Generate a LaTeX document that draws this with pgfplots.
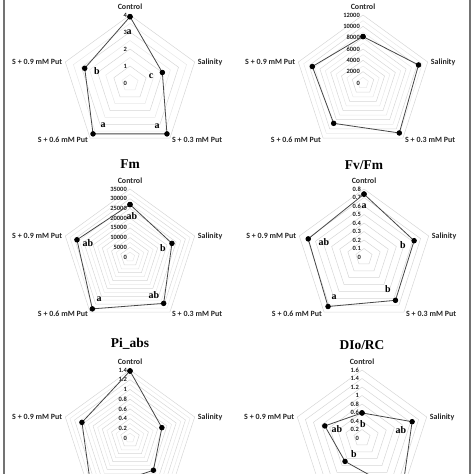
\documentclass[border=0pt]{standalone}
\usepackage{fontspec}
\setmainfont{Liberation Serif}
\newfontfamily\calfont{Carlito}
\usepackage{pgfplots}
\pgfplotsset{compat=1.18}
\usepgfplotslibrary{polar}

\pgfplotsset{
  radar/.style={anchor=center, width=136bp, height=136bp, scale only axis, hide axis, ymin=0, clip=false},
  ring/.style={black!16, line width=0.5bp, no marks},
  minring/.style={black!9, line width=0.5bp, no marks},
  series/.style={black!72, line width=0.8bp, mark=*, mark size=2.3bp, mark options={fill=black, draw=black}},
}
\tikzset{
  cat/.style={font=\calfont\bfseries\fontsize{8}{9}\selectfont, text=black!85, inner sep=0pt},
  tck/.style={font=\calfont\bfseries\fontsize{6.5}{7}\selectfont, text=black!88, anchor=east, inner sep=0pt, xshift=-3bp},
  let/.style={font=\bfseries\fontsize{10}{11}\selectfont, inner sep=0pt},
  ttl/.style={font=\bfseries\fontsize{13.5}{15}\selectfont, inner sep=0pt},
}
\newcommand{\cats}[1]{%
  \node[cat, anchor=south, yshift=5bp] at (axis cs:90,#1) {Control};
  \node[cat, anchor=west, xshift=3bp] at (axis cs:18,#1) {Salinity};
  \node[cat, anchor=west, xshift=2bp, yshift=-2bp] at (axis cs:306,#1) {S + 0.3 mM Put};
  \node[cat, anchor=east, xshift=-2bp, yshift=-2bp] at (axis cs:234,#1) {S + 0.6 mM Put};
  \node[cat, anchor=east, xshift=-3bp] at (axis cs:162,#1) {S + 0.9 mM Put};
}

\begin{document}
\begin{tikzpicture}
\useasboundingbox (0,0) rectangle (474bp,-474bp);
\draw[black!55, line width=1.5bp] (4bp,0) -- (4bp,-474bp);
\draw[black!55, line width=1.5bp] (470bp,0) -- (470bp,-474bp);

% ---------- top left ----------
\begin{polaraxis}[radar, at={(130bp,-83bp)}, ymax=4]
\pgfplotsinvokeforeach{0.5,1.5,2.5,3.5}{\addplot[minring] coordinates {(90,#1)(18,#1)(306,#1)(234,#1)(162,#1)(90,#1)};}
\pgfplotsinvokeforeach{1,2,3,4}{\addplot[ring] coordinates {(90,#1)(18,#1)(306,#1)(234,#1)(162,#1)(90,#1)};}
\pgfplotsinvokeforeach{0,1,2,3,4}{\node[tck] at (axis cs:90,#1) {#1};}
\addplot[series] coordinates {(90,3.9)(18,2.0)(306,3.7)(234,3.7)(162,2.8)(90,3.9)};
\cats{4}
\end{polaraxis}

% ---------- top right ----------
\begin{polaraxis}[radar, at={(363bp,-83bp)}, ymax=12000]
\pgfplotsinvokeforeach{1000,3000,5000,7000,9000,11000}{\addplot[minring] coordinates {(90,#1)(18,#1)(306,#1)(234,#1)(162,#1)(90,#1)};}
\pgfplotsinvokeforeach{2000,4000,6000,8000,10000,12000}{\addplot[ring] coordinates {(90,#1)(18,#1)(306,#1)(234,#1)(162,#1)(90,#1)};}
\pgfplotsinvokeforeach{0,2000,4000,6000,8000,10000,12000}{\node[tck] at (axis cs:90,#1) {#1};}
\addplot[series] coordinates {(90,8200)(18,10300)(306,10900)(234,8800)(162,9400)(90,8200)};
\cats{12000}
\end{polaraxis}

% ---------- Fm ----------
\begin{polaraxis}[radar, at={(130bp,-257bp)}, ymax=35000]
\pgfplotsinvokeforeach{2500,7500,12500,17500,22500,27500,32500}{\addplot[minring] coordinates {(90,#1)(18,#1)(306,#1)(234,#1)(162,#1)(90,#1)};}
\pgfplotsinvokeforeach{5000,10000,15000,20000,25000,30000,35000}{\addplot[ring] coordinates {(90,#1)(18,#1)(306,#1)(234,#1)(162,#1)(90,#1)};}
\pgfplotsinvokeforeach{0,5000,10000,15000,20000,25000,30000,35000}{\node[tck] at (axis cs:90,#1) {#1};}
\addplot[series] coordinates {(90,27000)(18,22700)(306,29500)(234,33000)(162,28700)(90,27000)};
\cats{35000}
\end{polaraxis}

% ---------- Fv/Fm ----------
\begin{polaraxis}[radar, at={(364bp,-257bp)}, ymax=0.8]
\pgfplotsinvokeforeach{0.1,0.2,0.3,0.4,0.5,0.6,0.7,0.8}{\addplot[ring] coordinates {(90,#1)(18,#1)(306,#1)(234,#1)(162,#1)(90,#1)};}
\pgfplotsinvokeforeach{0,0.1,0.2,0.3,0.4,0.5,0.6,0.7,0.8}{\node[tck] at (axis cs:90,#1) {#1};}
\addplot[series] coordinates {(90,0.74)(18,0.62)(306,0.63)(234,0.72)(162,0.69)(90,0.74)};
\cats{0.8}
\end{polaraxis}

% ---------- Pi_abs ----------
\begin{polaraxis}[radar, at={(130bp,-438bp)}, ymax=1.4]
\pgfplotsinvokeforeach{0.1,0.3,0.5,0.7,0.9,1.1,1.3}{\addplot[minring] coordinates {(90,#1)(18,#1)(306,#1)(234,#1)(162,#1)(90,#1)};}
\pgfplotsinvokeforeach{0.2,0.4,0.6,0.8,1,1.2,1.4}{\addplot[ring] coordinates {(90,#1)(18,#1)(306,#1)(234,#1)(162,#1)(90,#1)};}
\pgfplotsinvokeforeach{0,0.2,0.4,0.6,0.8,1,1.2,1.4}{\node[tck] at (axis cs:90,#1) {#1};}
\addplot[series] coordinates {(90,1.38)(18,0.69)(306,0.82)(234,1.35)(162,1.04)(90,1.38)};
\cats{1.4}
\end{polaraxis}

% ---------- DIo/RC ----------
\begin{polaraxis}[radar, at={(362bp,-438bp)}, ymax=1.6]
\pgfplotsinvokeforeach{0.2,0.4,0.6,0.8,1,1.2,1.4,1.6}{\addplot[ring] coordinates {(90,#1)(18,#1)(306,#1)(234,#1)(162,#1)(90,#1)};}
\pgfplotsinvokeforeach{0,0.2,0.4,0.6,0.8,1,1.2,1.4,1.6}{\node[tck] at (axis cs:90,#1) {#1};}
\addplot[series] coordinates {(90,0.59)(18,1.24)(306,1.6)(234,0.68)(162,0.92)(90,0.59)};
\cats{1.6}
\end{polaraxis}

% titles
\node[ttl] at (130bp,-164bp) {Fm};
\node[ttl] at (364bp,-165bp) {Fv/Fm};
\node[ttl] at (130bp,-344bp) {Pi\_abs};
\node[ttl] at (362bp,-345bp) {DIo/RC};

% significance letters
\node[let] at (129bp,-32bp) {a};
\node[let] at (151bp,-76bp) {c};
\node[let] at (157bp,-126bp) {a};
\node[let] at (103bp,-125bp) {a};
\node[let] at (97bp,-71bp) {b};

\node[let] at (132bp,-216bp) {ab};
\node[let] at (163bp,-248bp) {b};
\node[let] at (154bp,-295bp) {ab};
\node[let] at (99bp,-299bp) {a};
\node[let] at (88bp,-243bp) {ab};

\node[let] at (364bp,-206bp) {a};
\node[let] at (403bp,-245bp) {b};
\node[let] at (388bp,-289bp) {b};
\node[let] at (334bp,-297bp) {a};
\node[let] at (324bp,-242bp) {ab};

\node[let] at (363bp,-424bp) {b};
\node[let] at (401bp,-430bp) {ab};
\node[let] at (337bp,-429bp) {ab};
\node[let] at (354bp,-454bp) {b};
\end{tikzpicture}
\end{document}
